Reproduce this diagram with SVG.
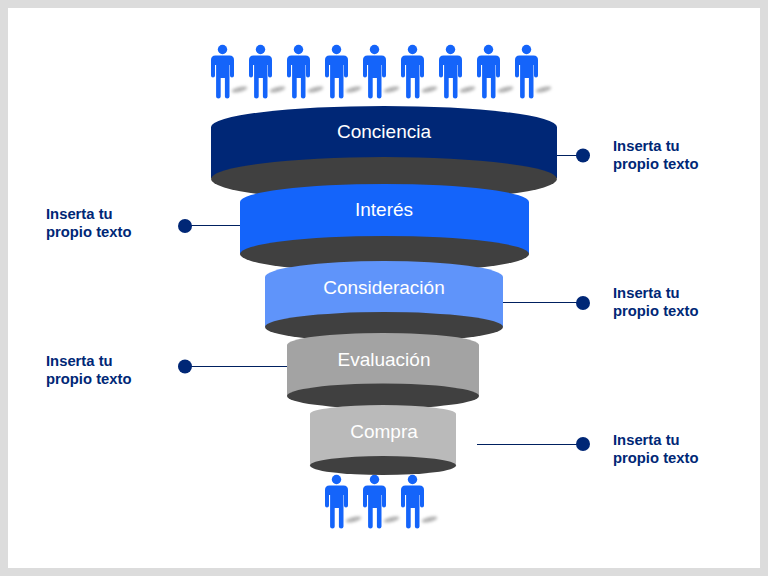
<svg xmlns="http://www.w3.org/2000/svg" xmlns:xlink="http://www.w3.org/1999/xlink" width="768" height="576" viewBox="0 0 768 576">
<style>
.t{font-family:"Liberation Sans",Arial,sans-serif;font-size:19px;fill:#fff;text-anchor:middle}
.l{font-family:"Liberation Sans",Arial,sans-serif;font-size:14.800px;font-weight:bold;fill:#002776}
.c{stroke:#002060;stroke-width:1;fill:none}
.d{fill:#002776}
.i{fill:#404040}
.p{fill:#1464fa}
</style>
<defs>
<filter id="b" x="-60%" y="-120%" width="220%" height="340%"><feGaussianBlur stdDeviation="1.600"/></filter>
<g id="person">
<ellipse cx="17" cy="89.500" rx="8" ry="2.600" transform="rotate(-14 17 89.500)" fill="#b2b2b2" filter="url(#b)"/>
<circle cx="0" cy="49.500" r="4.700" class="p"/>
<path class="p" d="M-7 55.500H7Q11.500 55.500 11.500 60V75.500Q11.500 77.500 9.500 77.500Q7.500 77.500 7.500 75.500V65H7V96.500Q7 98.500 4.700 98.500Q2.400 98.500 2.400 96.500V78H-1.800V96.500Q-1.800 98.500 -4.100 98.500Q-6.400 98.500 -6.400 96.500V65H-7.500V75.500Q-7.500 77.500 -9.500 77.500Q-11.500 77.500 -11.500 75.500V60Q-11.500 55.500 -7 55.500Z"/>
</g>
</defs>
<rect width="768" height="576" fill="#dcdcdc"/>
<rect x="8" y="8" width="752" height="560" fill="#fff"/>
<g id="connectors">
<path class="c" d="M557 155.500H582"/>
<path class="c" d="M185 225.500H240"/>
<path class="c" d="M503 302.500H583"/>
<path class="c" d="M185 366.500H287"/>
<path class="c" d="M477 444.500H583"/>
<circle class="d" cx="583" cy="155.500" r="7"/>
<circle class="d" cx="185" cy="226" r="7"/>
<circle class="d" cx="583" cy="303" r="7"/>
<circle class="d" cx="185" cy="366.500" r="7"/>
<circle class="d" cx="583" cy="444" r="7"/>
</g>
<g id="people-top">
<use xlink:href="#person" href="#person" x="222.500"/>
<use xlink:href="#person" href="#person" x="260.500"/>
<use xlink:href="#person" href="#person" x="298.500"/>
<use xlink:href="#person" href="#person" x="336.500"/>
<use xlink:href="#person" href="#person" x="374.500"/>
<use xlink:href="#person" href="#person" x="412.500"/>
<use xlink:href="#person" href="#person" x="450.500"/>
<use xlink:href="#person" href="#person" x="488.500"/>
<use xlink:href="#person" href="#person" x="526.500"/>
</g>
<g id="people-bottom">
<use xlink:href="#person" href="#person" x="336.500" y="430"/>
<use xlink:href="#person" href="#person" x="374.500" y="430"/>
<use xlink:href="#person" href="#person" x="412.500" y="430"/>
</g>
<g id="conciencia">
<path fill="#002776" d="M211 127A173 21 0 0 1 557 127V178H211Z"/>
<ellipse class="i" cx="384" cy="179" rx="173" ry="22"/>
<text class="t" x="384" y="138">Conciencia</text>
</g>
<g id="interes">
<path fill="#1464fa" d="M240 202A144.500 18 0 0 1 529 202V254H240Z"/>
<ellipse class="i" cx="384.500" cy="254" rx="144.500" ry="18"/>
<text class="t" x="384" y="216">Interés</text>
</g>
<g id="consideracion">
<path fill="#5f94fa" d="M265 277A119 16 0 0 1 503 277V327H265Z"/>
<ellipse class="i" cx="384" cy="327" rx="119" ry="15"/>
<text class="t" x="384" y="294">Consideración</text>
</g>
<g id="evaluacion">
<path fill="#a3a3a3" d="M287 345A96 12 0 0 1 479 345V396H287Z"/>
<ellipse class="i" cx="383" cy="396" rx="96" ry="12.500"/>
<text class="t" x="384" y="366">Evaluación</text>
</g>
<g id="compra">
<path fill="#bababa" d="M310 414A73 9 0 0 1 456 414V465H310Z"/>
<ellipse class="i" cx="383" cy="465.500" rx="73" ry="9.500"/>
<text class="t" x="384" y="438">Compra</text>
</g>
<g id="label-1"><text class="l" x="613" y="151">Inserta tu</text><text class="l" x="613" y="169">propio texto</text></g>
<g id="label-2"><text class="l" x="46" y="219">Inserta tu</text><text class="l" x="46" y="237">propio texto</text></g>
<g id="label-3"><text class="l" x="613" y="298">Inserta tu</text><text class="l" x="613" y="316">propio texto</text></g>
<g id="label-4"><text class="l" x="46" y="366">Inserta tu</text><text class="l" x="46" y="384">propio texto</text></g>
<g id="label-5"><text class="l" x="613" y="445">Inserta tu</text><text class="l" x="613" y="463">propio texto</text></g>
</svg>
